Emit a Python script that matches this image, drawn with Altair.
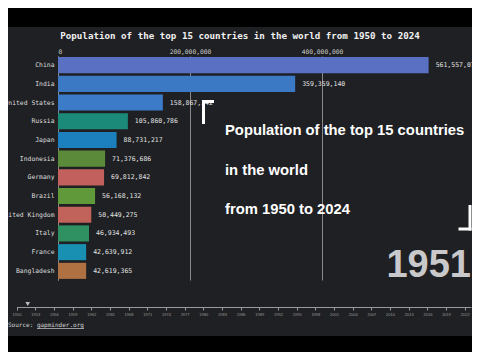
import altair as alt
import pandas as pd

countries = ["China", "India", "United States", "Russia", "Japan", "Indonesia",
             "Germany", "Brazil", "United Kingdom", "Italy", "France", "Bangladesh"]
populations = [561557071, 359359140, 158867342, 105860786, 88731217, 71376686,
               69812842, 56168132, 50449275, 46934493, 42639912, 42619365]
bar_colors = ["#5a70c2", "#3b79c5", "#3b7bc8", "#1b8a79", "#1c80be", "#5b8a3b",
              "#c1605d", "#5f993a", "#c1625b", "#2f9061", "#1990b1", "#b07142"]
x_ticks = [0, 200000000, 400000000]
year_ticks = [1950, 1953, 1956, 1959, 1962, 1965, 1968, 1971, 1974, 1977, 1980, 1983,
              1986, 1989, 1992, 1995, 1998, 2001, 2004, 2007, 2010, 2013, 2016, 2019, 2022]
current_year = [1951.8]
year_label = "1951"
title_text = "Population of the top 15 countries in the world from 1950 to 2024"
overlay_lines = ["Population of the top 15 countries", "in the world", "from 1950 to 2024"]

BG = "#1f2023"
MONO = "DejaVu Sans Mono"

df = pd.DataFrame({"country": countries, "population": populations})
one = pd.DataFrame({"a": [0]})
xdom = [0, 606060606]

xs = alt.X("population:Q", scale=alt.Scale(domain=xdom, nice=False, zero=True),
           axis=alt.Axis(orient="top", values=x_ticks, format=",d", domain=False,
                         ticks=False, grid=True, gridColor="#8a8a8a", gridWidth=1,
                         labelColor="#cfcfcf", labelFont=MONO, labelFontSize=6.3,
                         labelPadding=2, title=None))
ys = alt.Y("country:N", sort=countries,
           scale=alt.Scale(paddingInner=0.14, paddingOuter=0.06),
           axis=alt.Axis(domain=True, domainColor="#8a8a8a", ticks=False, grid=False,
                         labelColor="#dcdcdc", labelFont=MONO, labelFontSize=6.4,
                         labelPadding=4, title=None))

bars = alt.Chart(df).mark_bar().encode(
    x=xs, y=ys,
    color=alt.Color("country:N", scale=alt.Scale(domain=countries, range=bar_colors), legend=None),
)
vals = alt.Chart(df).mark_text(align="left", baseline="middle", dx=7, font=MONO,
                               fontSize=6.5, color="#e2e2e2").encode(
    x=xs, y=ys,
    text=alt.Text("population:Q", format=",d"),
)
main = alt.layer(bars, vals)

tl = pd.DataFrame({"year": current_year})
marker = alt.Chart(tl).mark_point(shape="triangle-down", filled=True, size=22,
                                  color="#bdbdbd", opacity=1).encode(
    x=alt.X("year:Q", scale=alt.Scale(domain=[1950, 2023], range=[-41.5, 413], nice=False, zero=False),
            axis=alt.Axis(orient="bottom", offset=27, values=year_ticks, format="d",
                          domainColor="#9a9a9a", tickColor="#9a9a9a", tickSize=3,
                          labelColor="#9a9a9a", labelFontSize=4, labelFont="Liberation Sans",
                          labelPadding=2, grid=False, title=None, labelFlush=False)),
    y=alt.value(248),
)

layers = [alt.layer(main, marker).resolve_scale(x="independent")]

# black letterbox bands
layers.append(alt.Chart(one).mark_rect(color="#000000").encode(
    x=alt.value(-60), x2=alt.value(420), y=alt.value(-60), y2=alt.value(-29)))
layers.append(alt.Chart(one).mark_rect(color="#000000").encode(
    x=alt.value(-60), x2=alt.value(420), y=alt.value(280), y2=alt.value(300)))

layers.append(alt.Chart(one).mark_text(text=title_text, font=MONO, fontWeight="bold",
                                       fontSize=9.2, color="#f0f0f0", align="center",
                                       baseline="middle").encode(
    x=alt.value(182), y=alt.value(-20)))

layers.append(alt.Chart(one).mark_text(text="Source: gapminder.org", font=MONO, fontSize=6,
                                       color="#d0d0d0", align="left", baseline="middle").encode(
    x=alt.value(-50), y=alt.value(269)))
layers.append(alt.Chart(one).mark_rule(color="#d0d0d0", strokeWidth=0.7).encode(
    x=alt.value(-21), x2=alt.value(26), y=alt.value(272.5)))

for txt, yb in zip(overlay_lines, [79, 119, 158]):
    layers.append(alt.Chart(one).mark_text(text=txt, font="Liberation Sans",
                                           fontWeight="bold", fontSize=14.8, color="#ffffff",
                                           align="left", baseline="alphabetic").encode(
        x=alt.value(167), y=alt.value(yb)))

# corner brackets
for x1, x2, y1, y2 in [(145.5, 145.5, 44, 68), (144, 156, 45.5, 45.5),
                       (412, 412, 149, 174.5), (400.5, 413.5, 173, 173)]:
    if x1 == x2:
        enc = dict(x=alt.value(x1), y=alt.value(y1), y2=alt.value(y2))
    else:
        enc = dict(x=alt.value(x1), x2=alt.value(x2), y=alt.value(y1))
    layers.append(alt.Chart(one).mark_rule(color="#ffffff", strokeWidth=3).encode(**enc))

layers.append(alt.Chart(one).mark_text(text=year_label, font="Liberation Sans", fontWeight="bold",
                                       fontSize=38, color="#c9c9cc", align="right",
                                       baseline="alphabetic").encode(
    x=alt.value(413), y=alt.value(221)))

chart = alt.layer(*layers).properties(
    width=400, height=224,
    autosize=alt.AutoSizeParams(type="none"),
    padding={"left": 50, "top": 48, "right": 14, "bottom": 72},
    background=BG,
).configure_view(stroke=None)

chart.save("out.html", embed_options={"renderer": "svg", "actions": False})
